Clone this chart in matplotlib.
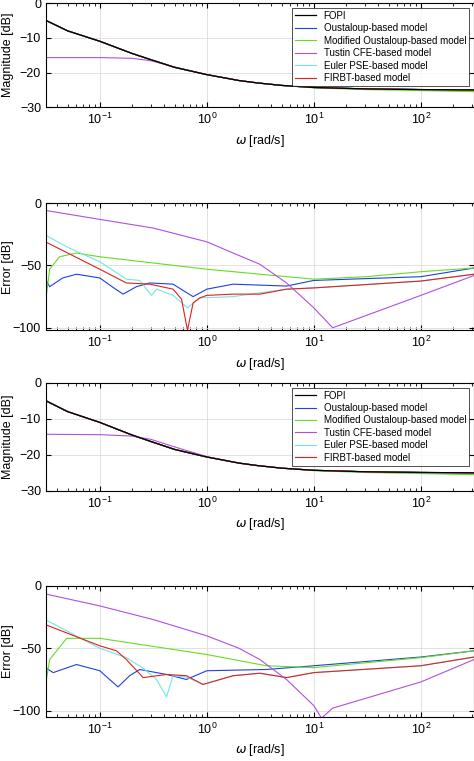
import matplotlib
matplotlib.use('Agg')
import matplotlib.pyplot as plt

plt.rcParams['font.family'] = ['Liberation Sans', 'DejaVu Sans']
plt.rcParams['font.size'] = 9

# magnitude panels (shared curve shapes)
w_mag = [0.0314, 0.05, 0.1, 0.2, 0.3, 0.5, 1, 2, 3, 5, 10, 30, 100, 314]
fopi_mag = [-5, -8, -11, -14.5, -16.3, -18.5, -20.6, -22.3, -23.0, -23.7, -24.3, -24.7, -24.9, -25.0]
green_mag = [-5, -8, -11, -14.5, -16.3, -18.5, -20.6, -22.3, -23.0, -23.7, -24.4, -24.9, -25.2, -25.5]
w_tus = [0.0314, 0.1, 0.2, 0.3, 0.5, 1, 2, 3, 5, 10, 30, 100, 314]
tustin_mag1 = [-15.7, -15.7, -15.9, -16.6, -18.4, -20.6, -22.3, -23.0, -23.7, -24.3, -24.7, -24.9, -25.0]
tustin_mag2 = [-14.3, -14.4, -14.8, -15.7, -17.8, -20.5, -22.3, -23.0, -23.7, -24.3, -24.7, -24.9, -25.0]

# error panel 1
w_pur1 = [0.031, 0.1, 0.317, 1.0, 1.76, 3.13, 5.56, 10, 15, 100, 315]
pur1 = [-5.8, -13, -20, -31, -40, -49, -64, -84, -100, -74, -58]
w_red1 = [0.031, 0.1, 0.177, 0.293, 0.484, 0.58, 0.66, 0.745, 0.86, 1.0, 1.76, 3.13, 5.56, 10, 100, 315]
red1 = [-31, -53, -64, -65, -69, -77, -102, -80, -76, -74, -73, -73, -69, -68, -62.5, -57]
w_cya1 = [0.031, 0.049, 0.1, 0.177, 0.236, 0.304, 0.339, 0.484, 0.66, 0.86, 1.76, 3.13, 5.56, 10, 100, 315]
cya1 = [-25.6, -35, -47, -61, -62, -74, -69, -74, -84, -76, -75, -72, -69, -68, -62.5, -57]
w_gre1 = [0.031, 0.034, 0.042, 0.0605, 0.1, 1.0, 10, 31, 100, 315]
gre1 = [-80, -53, -43, -40, -43, -53, -61, -59, -55, -52]
w_blu1 = [0.031, 0.034, 0.045, 0.0605, 0.1, 0.13, 0.165, 0.22, 0.293, 0.484, 0.6, 0.745, 1.0, 1.76, 5.56, 10, 100, 315]
blu1 = [-61, -67, -60, -57, -60, -67, -73, -67, -64, -65, -70, -75, -69, -65, -66.5, -62, -59, -52]

# error panel 2
w_pur2 = [0.031, 0.1, 0.317, 1.0, 2.0, 3.13, 5.56, 10, 11.8, 15, 100, 315]
pur2 = [-6.4, -16, -27, -40, -50, -59, -75, -96, -106, -98, -77, -59]
w_red2 = [0.031, 0.1, 0.143, 0.177, 0.254, 0.42, 0.645, 0.92, 1.76, 3.13, 5.56, 10, 100, 315]
red2 = [-31, -48, -52, -59, -73.5, -71, -72, -79, -72, -70, -73.5, -69.5, -64, -57]
w_cya2 = [0.031, 0.1, 0.177, 0.254, 0.339, 0.42, 0.484, 0.645, 0.92, 1.76, 3.13, 5.56, 10, 100, 315]
cya2 = [-27, -50, -57.5, -66, -75, -89, -72, -73, -79, -72, -70, -73.5, -69.5, -64, -57]
w_gre2 = [0.031, 0.034, 0.049, 0.1, 1.0, 3.6, 10, 100, 315]
gre2 = [-80, -59, -42, -42, -55, -64, -65.5, -57.5, -52]
w_blu2 = [0.031, 0.0367, 0.0605, 0.1, 0.148, 0.19, 0.236, 0.42, 0.645, 1.0, 3.6, 10, 100, 315]
blu2 = [-65.5, -69.5, -63, -68, -81, -72, -67, -71, -75, -68, -67, -64, -57, -52]

labels = ['FOPI', 'Oustaloup-based model', 'Modified Oustaloup-based model',
          'Tustin CFE-based model', 'Euler PSE-based model', 'FIRBT-based model']
colors = ['black', '#2040e0', '#66dd22', '#b050e0', '#70e8e0', '#e02020']

fig = plt.figure(figsize=(4.74, 7.61), dpi=100)
L, W = 0.097, 0.903
ax1 = fig.add_axes([L, 0.859, W, 0.137])
ax2 = fig.add_axes([L, 0.566, W, 0.167])
ax3 = fig.add_axes([L, 0.355, W, 0.142])
ax4 = fig.add_axes([L, 0.058, W, 0.172])


def style(ax, ylim, yticks, ylabel):
    ax.set_xscale('log')
    ax.set_xlim(0.0314, 314)
    ax.set_ylim(*ylim)
    ax.set_yticks(yticks)
    ax.set_ylabel(ylabel)
    ax.yaxis.set_label_coords(-0.075, 0.5)
    ax.set_xlabel(r'$\omega$ [rad/s]')
    ax.grid(True, which='major', color='#dddddd', linewidth=0.6)
    ax.tick_params(which='both', direction='in', top=True, right=True)


for ax, tus in [(ax1, tustin_mag1), (ax3, tustin_mag2)]:
    ax.plot(w_mag, fopi_mag, color=colors[0], lw=0.9, label=labels[0])
    ax.plot(w_mag, fopi_mag, color=colors[1], lw=0.8, label=labels[1])
    ax.plot(w_mag, green_mag, color=colors[2], lw=0.8, label=labels[2])
    ax.plot(w_tus, tus, color=colors[3], lw=0.8, label=labels[3])
    ax.plot(w_mag, fopi_mag, color=colors[4], lw=0.8, label=labels[4])
    ax.plot(w_mag, fopi_mag, color=colors[5], lw=0.8, label=labels[5])
    ax.plot(w_mag, fopi_mag, color=colors[0], lw=0.9)
    style(ax, (-30, 0), [-30, -20, -10, 0], 'Magnitude [dB]')
    leg = ax.legend(loc='upper right', fontsize=7, frameon=True, fancybox=False,
                    edgecolor='black', handlelength=2.2, borderpad=0.3, labelspacing=0.25)
    leg.get_frame().set_linewidth(0.6)

for ax, data, ylim in [
        (ax2, [(w_blu1, blu1), (w_gre1, gre1), (w_pur1, pur1), (w_cya1, cya1), (w_red1, red1)], (-102, 0)),
        (ax4, [(w_blu2, blu2), (w_gre2, gre2), (w_pur2, pur2), (w_cya2, cya2), (w_red2, red2)], (-105, 0))]:
    for (w, v), c in zip(data, colors[1:]):
        ax.plot(w, v, color=c, lw=0.8)
    style(ax, ylim, [-100, -50, 0], 'Error [dB]')

fig.savefig('out.png', dpi=100)
